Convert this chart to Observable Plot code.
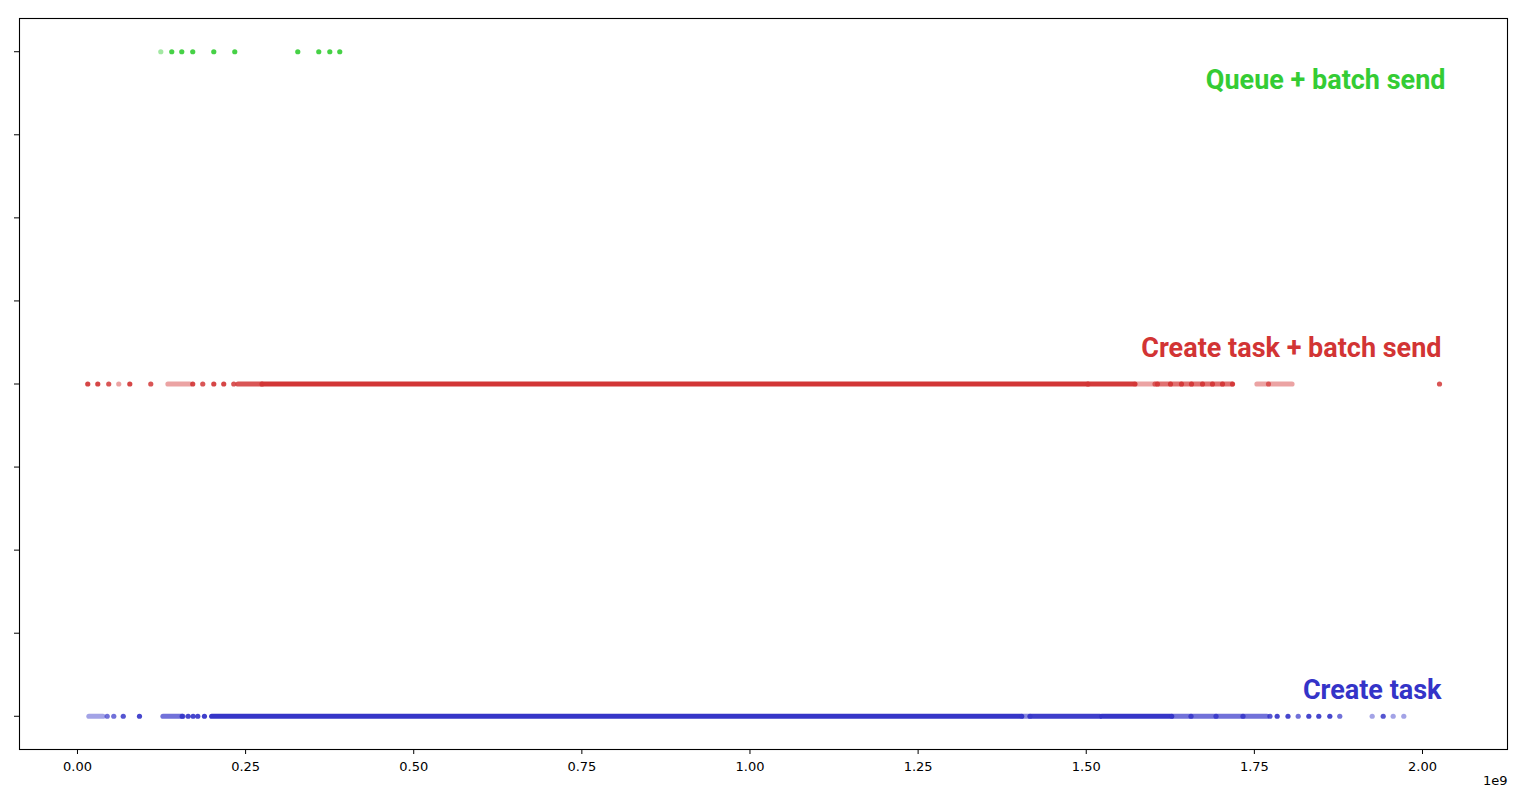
<!DOCTYPE html>
<html><head><meta charset="utf-8">
<script src="https://cdn.jsdelivr.net/npm/d3@7"></script>
<script src="https://cdn.jsdelivr.net/npm/@observablehq/plot@0.6"></script>
<style>body{margin:0;background:#fff}</style>
</head><body><div id="chart"></div>
<script>
// Series (rows of the strip plot)
const seriesNames = ["Create task", "Create task + batch send", "Queue + batch send"];
const seriesRow = [0, 4, 8];
const seriesColors = ["#3434c8", "#d23434", "#34cc34"];

// Axis ticks
const xTicks = [0, 0.25, 0.5, 0.75, 1.0, 1.25, 1.5, 1.75, 2.0];
const yTicks = [0, 1, 2, 3, 4, 5, 6, 7, 8];

// Label positions (data coordinates, x in units of 1e9)
const labelX = [2.0283, 2.0283, 2.0342];
const labelY = [0.31, 4.43, 7.65];

// Isolated samples: x (×1e9) and number of overlapping samples
const blueX = [0.0442, 0.0540, 0.0681, 0.0922, 0.1557, 0.1646, 0.1720, 0.1789, 0.1888,
  1.6558, 1.6930, 1.7331, 1.7732,
  1.7839, 1.8000, 1.8152, 1.8310, 1.8458, 1.8622, 1.8770, 1.9252, 1.9416, 1.9564, 1.9722];
const blueN = [2, 2, 3, 4, 4, 4, 4, 4, 5,
  3, 3, 3, 3,
  4, 4, 2, 4, 4, 4, 2, 1, 3, 1, 1];
const redX = [0.0153, 0.0302, 0.0465, 0.0614, 0.0778, 0.1090, 0.1714, 0.1863, 0.2027, 0.2175, 0.2324,
  1.6059, 1.6253, 1.6416, 1.6565, 1.6729, 1.6877, 1.7026, 1.7175, 1.7710, 2.0253];
const redN = [4, 4, 3, 1, 4, 3, 4, 3, 4, 4, 3,
  3, 4, 4, 4, 4, 4, 4, 4, 2, 3];
const greenX = [0.1239, 0.1402, 0.1551, 0.1714, 0.2027, 0.2339, 0.3276, 0.3588, 0.3752, 0.3900];
const greenN = [1, 4, 4, 4, 4, 4, 4, 4, 4, 4];

// Dense stretches: start, end (×1e9) and typical overlap count
const blueStart = [0.0178, 0.1279, 0.2003, 1.4052, 1.4171, 1.5237, 1.6283];
const blueEnd   = [0.0387, 0.1576, 1.4048, 1.4171, 1.5212, 1.6278, 1.7695];
const blueDen   = [1, 2, 8, 1.5, 5, 8, 2];
const redStart = [0.1353, 0.2394, 0.2751, 1.5033, 1.5732, 1.6030, 1.7546];
const redEnd   = [0.1680, 0.2751, 1.5033, 1.5732, 1.6030, 1.7175, 1.8067];
const redDen   = [1, 3, 8, 6, 1, 2, 1];

const ALPHA = 0.45;
const opacityOf = n => 1 - Math.pow(1 - ALPHA, n);

const dots = [];
[[blueX, blueN], [redX, redN], [greenX, greenN]].forEach(([xs, ns], s) => {
  xs.forEach((x, i) => dots.push({x, y: seriesRow[s], color: seriesColors[s], op: opacityOf(ns[i])}));
});
const ranges = [];
[[blueStart, blueEnd, blueDen], [redStart, redEnd, redDen]].forEach(([a, b, n], s) => {
  a.forEach((x1, i) => ranges.push({x1, x2: b[i], y: seriesRow[s], color: seriesColors[s], op: opacityOf(n[i])}));
});
const labels = seriesNames.map((t, i) => ({t, x: labelX[i], y: labelY[i], color: seriesColors[i]}));

const chart = Plot.plot({
  width: 1531, height: 805,
  marginLeft: 19, marginRight: 24, marginTop: 18, marginBottom: 56,
  x: {domain: [-0.0862, 2.1264]},
  y: {domain: [-0.4, 8.4]},
  color: {type: "identity"},
  opacity: {type: "identity"},
  style: {fontFamily: "DejaVu Sans", fontSize: "12.5px", color: "black", background: "white"},
  marks: [
    Plot.ruleY(ranges, {x1: "x1", x2: "x2", y: "y", stroke: "color", strokeOpacity: "op", strokeWidth: 5.2, strokeLinecap: "round"}),
    Plot.dot(dots, {x: "x", y: "y", r: 2.6, fill: "color", fillOpacity: "op", stroke: "none"}),
    Plot.text(labels, {x: "x", y: "y", text: "t", fill: "color", textAnchor: "end", lineAnchor: "middle",
      fontFamily: "Roboto", fontWeight: "bold", fontSize: 27}),
    Plot.frame({stroke: "black", strokeWidth: 1.1}),
    Plot.axisX({ticks: xTicks, tickFormat: d3.format(".2f"), tickSize: 5, tickPadding: 7, label: null, fontSize: 13}),
    Plot.axisY({ticks: yTicks, tickFormat: () => "", tickSize: 5, label: null}),
    Plot.text(["1e9"], {frameAnchor: "bottom-right", dy: 35, text: d => d, textAnchor: "end", fontSize: 13})
  ]
});
document.getElementById("chart").appendChild(chart);
</script>
</body></html>
